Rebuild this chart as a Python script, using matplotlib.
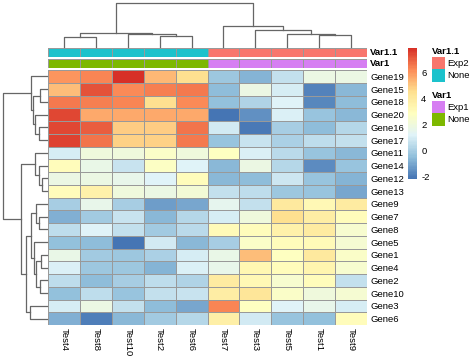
import numpy as np
import matplotlib
matplotlib.use('Agg')
import matplotlib.pyplot as plt
from matplotlib.colors import LinearSegmentedColormap, ListedColormap
from matplotlib.patches import Rectangle

plt.rcParams['font.family'] = ['Liberation Sans', 'DejaVu Sans']
plt.rcParams['axes.unicode_minus'] = False

# columns / rows in displayed (clustered) order
tests = ['Test4', 'Test8', 'Test10', 'Test2', 'Test6', 'Test7', 'Test3', 'Test5', 'Test1', 'Test9']
genes = ['Gene19', 'Gene15', 'Gene18', 'Gene20', 'Gene16', 'Gene17', 'Gene11', 'Gene14', 'Gene12', 'Gene13',
         'Gene9', 'Gene7', 'Gene8', 'Gene5', 'Gene1', 'Gene4', 'Gene2', 'Gene10', 'Gene3', 'Gene6']

values = np.array([
    [6.0, 6.3, 7.9, 5.3, 4.5, -0.2, -0.7, 0.6, 1.8, 1.8],
    [5.2, 7.2, 6.2, 6.4, 6.5, -0.5, 1.8, 1.0, -1.8, -0.6],
    [6.5, 6.4, 6.3, 4.5, 6.2, -0.4, 0.2, 1.2, -1.7, -0.5],
    [7.4, 5.6, 5.6, 5.6, 5.6, -2.2, -1.5, 1.1, -0.3, -0.6],
    [7.4, 7.0, 4.9, 4.9, 6.6, 0.9, -2.0, 0.0, -0.5, 0.3],
    [7.5, 6.6, 4.8, 4.8, 6.5, -0.3, 0.7, 0.1, 0.5, 0.6],
    [1.0, 2.0, 2.0, 2.6, 2.0, 2.8, 1.1, 0.4, -0.3, -0.6],
    [3.0, 1.7, 0.7, 2.7, 1.2, -0.6, 1.8, 0.3, -1.6, -0.3],
    [1.8, 1.8, 1.6, 1.2, 3.0, -0.6, -0.5, 0.8, -0.3, -0.7],
    [3.0, 3.6, 2.0, 1.8, 2.2, 0.6, 0.5, -0.2, -0.3, -1.0],
    [0.0, 1.6, 0.0, -1.2, -1.0, 1.5, 0.6, 4.0, 3.2, 3.9],
    [-0.8, -0.1, 0.7, -0.6, 0.3, 1.0, 2.0, 4.5, 3.8, 3.0],
    [0.5, 1.2, 0.6, -0.1, 0.4, 3.1, 3.0, 3.6, 3.9, 2.4],
    [-0.4, -0.5, -2.2, 0.9, -0.6, 0.0, 2.6, 3.0, 3.1, 2.3],
    [1.7, -0.1, -0.2, 0.1, 1.0, 1.7, 5.2, 2.8, 4.0, 2.6],
    [1.1, -0.2, -0.2, -0.7, 1.1, 1.6, 3.3, 3.0, 3.4, 2.4],
    [0.5, -0.5, 0.0, 0.5, 0.2, 3.9, 3.2, 2.4, 3.0, 0.6],
    [-0.4, 0.5, -0.3, 0.6, 0.7, 3.8, 4.2, 2.6, 2.0, 2.3],
    [1.0, 1.8, 0.6, -0.5, -1.0, 6.3, 2.8, 1.2, 1.6, 1.0],
    [-0.8, -1.9, -0.6, -0.1, 0.3, 3.7, 0.9, -0.3, -0.4, 3.0],
])

var1_1 = ['None'] * 5 + ['Exp2'] * 5
var1 = ['None'] * 5 + ['Exp1'] * 5
var1_1_colors = {'Exp2': '#F8766D', 'None': '#1CC2CC'}
var1_colors = {'Exp1': '#D67EF2', 'None': '#7DB800'}

# merges (left index, right index, height); index >= n means an earlier merge
col_merges = [(0, 1, 10.2), (3, 4, 11.0), (2, 11, 13.0), (10, 12, 14.5),
              (8, 9, 12.0), (7, 14, 13.0), (6, 15, 17.5), (5, 16, 21.5), (13, 17, 44.5)]
row_merges = [(1, 2, 7.5), (4, 5, 8.5), (3, 21, 11.8), (20, 22, 14.2), (0, 23, 16.5),
              (8, 9, 4.8), (7, 25, 8.2), (6, 26, 12.5),
              (11, 12, 8.2), (10, 28, 10.8), (14, 15, 5.8), (16, 17, 7.5), (30, 31, 11.5),
              (13, 32, 13.2), (29, 33, 15.8), (18, 19, 17.5), (34, 35, 20.8),
              (27, 36, 26.5), (24, 37, 44.5)]

W, H = 474, 361
fig = plt.figure(figsize=(W / 100, H / 100), dpi=100)


def ax_px(x0, y0, x1, y1):
    return fig.add_axes([x0 / W, 1 - y1 / H, (x1 - x0) / W, (y1 - y0) / H])


def draw_dendro(ax, merges, n, horizontal):
    pos = list(np.arange(n) + 0.5)
    hgt = [0.0] * n
    for a, b, h in merges:
        xs = [pos[a], pos[a], pos[b], pos[b]]
        ys = [hgt[a], h, h, hgt[b]]
        if horizontal:
            ax.plot(ys, xs, color='#666666', lw=0.9, clip_on=False)
        else:
            ax.plot(xs, ys, color='#666666', lw=0.9, clip_on=False)
        pos.append((pos[a] + pos[b]) / 2)
        hgt.append(h)


cmap = LinearSegmentedColormap.from_list(
    'rdylbu', ['#4575B4', '#91BFDB', '#E0F3F8', '#FFFFBF', '#FEE090', '#FC8D59', '#D73027'], N=100)
vmin, vmax = values.min(), values.max()

# heatmap
ax = ax_px(48, 70, 367, 325)
mesh = ax.pcolormesh(values, cmap=cmap, vmin=vmin, vmax=vmax, edgecolors='#999999', linewidth=0.5)
ax.set_xlim(0, len(tests))
ax.set_ylim(len(genes), 0)
ax.set_xticks(np.arange(len(tests)) + 0.5)
ax.set_xticklabels(tests, rotation=270, fontsize=6.8, va='top', ha='center')
ax.set_yticks(np.arange(len(genes)) + 0.5)
ax.set_yticklabels(genes, fontsize=6.8)
ax.yaxis.tick_right()
ax.tick_params(length=0, pad=2.5)
for s in ax.spines.values():
    s.set_visible(False)

# annotation bars
for (y0, y1), ann, cols, name in [((48, 57), var1_1, var1_1_colors, 'Var1.1'),
                                  ((59, 68), var1, var1_colors, 'Var1')]:
    aax = ax_px(48, y0, 367, y1)
    cats = list(cols.keys())
    codes = np.array([[cats.index(c) for c in ann]])
    aax.pcolormesh(codes, cmap=ListedColormap([cols[c] for c in cats]), vmin=-0.5,
                   vmax=len(cats) - 0.5, edgecolors='#999999', linewidth=0.5)
    aax.set_xlim(0, len(ann))
    aax.axis('off')
    fig.text(370 / W, 1 - (y0 + y1) / 2 / H, name, fontsize=6.8, fontweight='bold', va='center', ha='left')

# dendrograms
cdax = ax_px(48, 0, 367, 47)
cdax.set_xlim(0, len(tests))
cdax.set_ylim(0, 47)
draw_dendro(cdax, col_merges, len(tests), horizontal=False)
cdax.axis('off')

rdax = ax_px(0, 70, 47, 325)
rdax.set_ylim(len(genes), 0)
rdax.set_xlim(47, 0)
draw_dendro(rdax, row_merges, len(genes), horizontal=True)
rdax.axis('off')

# colorbar
cax = ax_px(408, 48, 417, 179)
cb = fig.colorbar(mesh, cax=cax, ticks=[-2, 0, 2, 4, 6])
cb.outline.set_visible(False)
cax.tick_params(length=0, labelsize=6.8, pad=3)

# annotation legends
lax = fig.add_axes([0, 0, 1, 1])
lax.set_xlim(0, W)
lax.set_ylim(H, 0)
lax.axis('off')
top = 47
for name, cols in [('Var1.1', var1_1_colors), ('Var1', var1_colors)]:
    lax.text(432, top + 4.5, name, fontsize=6.8, fontweight='bold', va='center', ha='left')
    y = top + 9.5
    for cat, c in cols.items():
        lax.add_patch(Rectangle((432, y), 13, 12.5, facecolor=c, edgecolor='none'))
        lax.text(447.5, y + 6.5, cat, fontsize=6.8, va='center', ha='left')
        y += 12.5
    top += 44

fig.savefig('out.png', dpi=100)
